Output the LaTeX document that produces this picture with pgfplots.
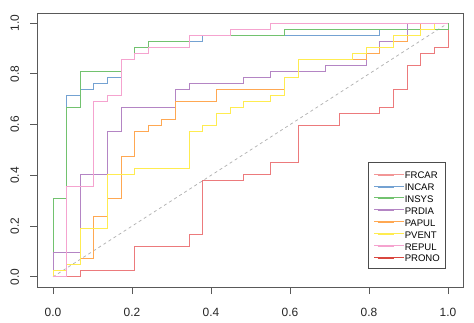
\documentclass[border=0pt]{standalone}
\usepackage{fontspec}
\setmainfont{Liberation Sans}
\usepackage{pgfplots}
\pgfplotsset{compat=1.18}
\definecolor{cFRCAR}{HTML}{EC7A7C}
\definecolor{cFRCARleg}{HTML}{F29696}
\definecolor{cINCAR}{HTML}{74A2D2}
\definecolor{cINSYS}{HTML}{72C26F}
\definecolor{cPRDIA}{HTML}{B485C4}
\definecolor{cPAPUL}{HTML}{FFA852}
\definecolor{cPVENT}{HTML}{FFEC50}
\definecolor{cREPUL}{HTML}{F5A3CF}
\definecolor{cPRONO}{HTML}{D9473F}
\begin{document}
\begin{tikzpicture}
\useasboundingbox (-37.2bp,-36bp) rectangle (436.8bp,287bp);
\begin{axis}[
  at={(0bp,0bp)}, anchor=south west,
  scale only axis, width=426.6bp, height=274bp,
  xmin=-0.04, xmax=1.04, ymin=-0.04, ymax=1.04,
  axis line style={draw=black!65, line width=0.9bp},
  xtick={0,0.2,0.4,0.6,0.8,1}, xticklabels={0.0,0.2,0.4,0.6,0.8,1.0},
  ytick={0,0.2,0.4,0.6,0.8,1}, yticklabels={0.0,0.2,0.4,0.6,0.8,1.0},
  xtick pos=bottom, ytick pos=left,
  tick align=outside, major tick length=7bp,
  tick style={draw=black!65, line width=0.9bp},
  /pgf/number format/assume math mode=true,
  ticklabel style={font=\fontsize{12}{14}\selectfont, text=black!85},
  xticklabel style={anchor=north, inner sep=0pt},
  xticklabel shift=13.7bp,
  yticklabel style={rotate=90, anchor=south, inner sep=0pt},
  yticklabel shift=10.9bp,
  every axis plot/.append style={line width=1bp},
  legend style={at={(axis cs:0.995,0.0303)}, anchor=south east,
    draw=black!70, line width=0.8bp, fill=white,
    font=\fontsize{9.6}{11.5}\selectfont,
    inner xsep=5.8bp, inner ysep=5.4bp, row sep=0pt, column sep=0pt,
    nodes={inner sep=0pt, text height=10.45bp, text depth=1.45bp}},
  legend cell align=left,
  legend image code/.code={\path (-3.2bp,0bp) -- (26.7bp,0bp);
    \draw[#1, line width=1bp] (0bp,-1.05bp) -- (16.7bp,-1.05bp);},
]
\addplot[forget plot, draw=black!30, line width=0.75bp, dash pattern=on 3bp off 3bp] coordinates {(0,0) (1,1)};
\addplot[cFRCAR, forget plot] coordinates {(0,0) (0.0690,0) (0.0690,0.0238) (0.2069,0.0238) (0.2069,0.1190) (0.3448,0.1190) (0.3448,0.1667) (0.3793,0.1667) (0.3793,0.3810) (0.4828,0.3810) (0.4828,0.4048) (0.5517,0.4048) (0.5517,0.4524) (0.6207,0.4524) (0.6207,0.5952) (0.7241,0.5952) (0.7241,0.6429) (0.8276,0.6429) (0.8276,0.6667) (0.8621,0.6667) (0.8621,0.7381) (0.8966,0.7381) (0.8966,0.8333) (0.9310,0.8333) (0.9310,0.8810) (0.9655,0.8810) (0.9655,0.9048) (1,0.9048) (1,1)};
\addlegendimage{cFRCARleg}
\addlegendentry{FRCAR}
\addplot[cINCAR] coordinates {(0,0) (0,0.3095) (0.0345,0.3095) (0.0345,0.7143) (0.0690,0.7143) (0.0690,0.7381) (0.1034,0.7381) (0.1034,0.7619) (0.1379,0.7619) (0.1379,0.7857) (0.1724,0.7857) (0.1724,0.8571) (0.2069,0.8571) (0.2069,0.9048) (0.2414,0.9048) (0.2414,0.9286) (0.3793,0.9286) (0.3793,0.9524) (0.8276,0.9524) (0.8276,0.9762) (0.9655,0.9762) (0.9655,1) (1,1)};
\addlegendentry{INCAR}
\addplot[cINSYS] coordinates {(0,0) (0,0.3095) (0.0345,0.3095) (0.0345,0.6667) (0.0690,0.6667) (0.0690,0.8095) (0.1724,0.8095) (0.1724,0.8571) (0.2069,0.8571) (0.2069,0.9048) (0.2414,0.9048) (0.2414,0.9286) (0.3448,0.9286) (0.3448,0.9524) (0.5862,0.9524) (0.5862,0.9762) (1,0.9762) (1,1)};
\addlegendentry{INSYS}
\addplot[cPRDIA] coordinates {(0,0) (0,0.0952) (0.0690,0.0952) (0.0690,0.4048) (0.1379,0.4048) (0.1379,0.5714) (0.1724,0.5714) (0.1724,0.6667) (0.3103,0.6667) (0.3103,0.7381) (0.3448,0.7381) (0.3448,0.7619) (0.4828,0.7619) (0.4828,0.7857) (0.5517,0.7857) (0.5517,0.8095) (0.6897,0.8095) (0.6897,0.8333) (0.7931,0.8333) (0.7931,0.9048) (0.8276,0.9048) (0.8276,0.9286) (0.8966,0.9286) (0.8966,1) (1,1)};
\addlegendentry{PRDIA}
\addplot[cPAPUL] coordinates {(0,0) (0,0.0238) (0.0345,0.0238) (0.0345,0.0476) (0.0690,0.0476) (0.0690,0.0714) (0.1034,0.0714) (0.1034,0.2381) (0.1379,0.2381) (0.1379,0.3095) (0.1724,0.3095) (0.1724,0.4762) (0.2069,0.4762) (0.2069,0.5714) (0.2414,0.5714) (0.2414,0.5952) (0.2759,0.5952) (0.2759,0.6190) (0.3103,0.6190) (0.3103,0.6905) (0.4138,0.6905) (0.4138,0.7381) (0.5862,0.7381) (0.5862,0.7857) (0.6207,0.7857) (0.6207,0.8571) (0.7931,0.8571) (0.7931,0.8810) (0.8276,0.8810) (0.8276,0.9048) (0.8621,0.9048) (0.8621,0.9286) (0.8966,0.9286) (0.8966,0.9524) (0.9310,0.9524) (0.9310,1) (1,1)};
\addlegendentry{PAPUL}
\addplot[cPVENT] coordinates {(0,0) (0,0.0238) (0.0345,0.0238) (0.0345,0.0476) (0.0690,0.0476) (0.0690,0.1905) (0.1379,0.1905) (0.1379,0.4048) (0.2069,0.4048) (0.2069,0.4286) (0.3448,0.4286) (0.3448,0.5714) (0.3793,0.5714) (0.3793,0.5952) (0.4138,0.5952) (0.4138,0.6429) (0.4483,0.6429) (0.4483,0.6667) (0.4828,0.6667) (0.4828,0.6905) (0.5517,0.6905) (0.5517,0.7143) (0.5862,0.7143) (0.5862,0.7857) (0.6207,0.7857) (0.6207,0.8571) (0.7586,0.8571) (0.7586,0.8810) (0.7931,0.8810) (0.7931,0.9048) (0.8621,0.9048) (0.8621,0.9524) (0.9310,0.9524) (0.9310,0.9762) (0.9655,0.9762) (0.9655,1) (1,1)};
\addlegendentry{PVENT}
\addplot[cREPUL] coordinates {(0,0) (0.0345,0) (0.0345,0.3571) (0.1034,0.3571) (0.1034,0.6905) (0.1379,0.6905) (0.1379,0.7143) (0.1724,0.7143) (0.1724,0.8571) (0.2069,0.8571) (0.2069,0.8810) (0.2414,0.8810) (0.2414,0.9048) (0.3448,0.9048) (0.3448,0.9524) (0.4483,0.9524) (0.4483,0.9762) (0.5517,0.9762) (0.5517,1) (1,1)};
\addlegendentry{REPUL}
\addlegendimage{cPRONO}
\addlegendentry{PRONO}
\end{axis}
\end{tikzpicture}
\end{document}
